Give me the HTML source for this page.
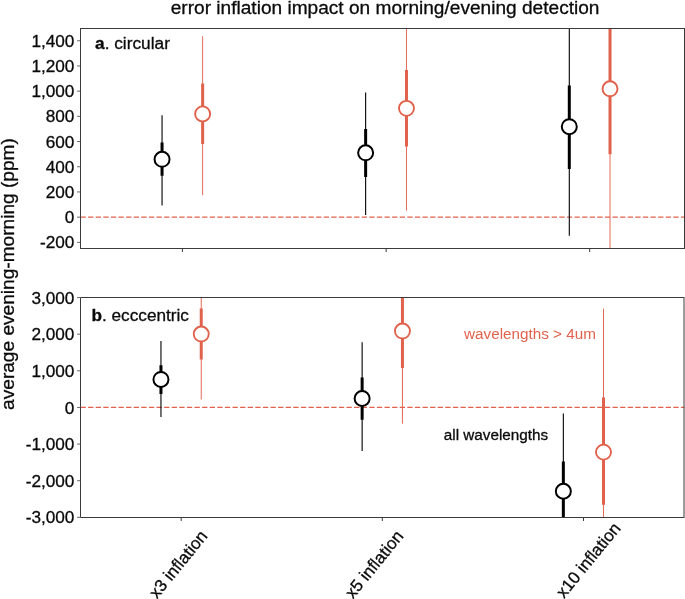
<!DOCTYPE html><html><head><meta charset="utf-8"><title>error inflation impact</title>
<style>html,body{margin:0;padding:0;background:#fff}svg{display:block}text{font-family:"Liberation Sans",Arial,Helvetica,sans-serif}text.k{fill:#0a0a0a;stroke:#0a0a0a;stroke-width:.3px}</style></head><body>
<svg width="685" height="599" viewBox="0 0 685 599">
<rect width="685" height="599" fill="#fff"/>
<defs>
<clipPath id="c1"><rect x="80.5" y="28.5" width="604.0" height="220.0"/></clipPath>
<clipPath id="c2"><rect x="80.5" y="297.5" width="604.0" height="220.0"/></clipPath>
</defs>
<line x1="80.5" x2="684.5" y1="217.05" y2="217.05" stroke="#E1624C" stroke-width="1.35" stroke-dasharray="5.3 2.3"/>
<line x1="80.5" x2="684.5" y1="407.4" y2="407.4" stroke="#E1624C" stroke-width="1.1" stroke-dasharray="5.3 2.3"/>
<g clip-path="url(#c1)"><line x1="162.05" x2="162.05" y1="115.2" y2="205.6" stroke="#000" stroke-width="1.1" opacity="1"/><line x1="162.05" x2="162.05" y1="142.4" y2="175.7" stroke="#000" stroke-width="3.0"/><circle cx="162.05" cy="159.3" r="7.5" fill="#fff" stroke="#000" stroke-width="2.0"/></g>
<g clip-path="url(#c1)"><line x1="202.63" x2="202.63" y1="36.2" y2="195.1" stroke="#E1624C" stroke-width="0.95" opacity="1"/><line x1="202.63" x2="202.63" y1="83.4" y2="144.1" stroke="#E1624C" stroke-width="3.0"/><circle cx="202.63" cy="113.9" r="7.5" fill="#fff" stroke="#E1624C" stroke-width="1.9"/></g>
<g clip-path="url(#c1)"><line x1="365.63" x2="365.63" y1="92.5" y2="215.05" stroke="#000" stroke-width="1.1" opacity="1"/><line x1="365.63" x2="365.63" y1="128.9" y2="177.0" stroke="#000" stroke-width="3.0"/><circle cx="365.63" cy="152.8" r="7.5" fill="#fff" stroke="#000" stroke-width="2.0"/></g>
<g clip-path="url(#c1)"><line x1="406.48" x2="406.48" y1="20" y2="210.6" stroke="#E1624C" stroke-width="0.95" opacity="1"/><line x1="406.48" x2="406.48" y1="70" y2="146.4" stroke="#E1624C" stroke-width="3.0"/><circle cx="406.48" cy="108.35" r="7.5" fill="#fff" stroke="#E1624C" stroke-width="1.9"/></g>
<g clip-path="url(#c1)"><line x1="569.3" x2="569.3" y1="20" y2="235.7" stroke="#000" stroke-width="1.1" opacity="1"/><line x1="569.3" x2="569.3" y1="85.4" y2="169.1" stroke="#000" stroke-width="3.0"/><circle cx="569.3" cy="126.7" r="7.5" fill="#fff" stroke="#000" stroke-width="2.0"/></g>
<g clip-path="url(#c1)"><line x1="610.02" x2="610.02" y1="20" y2="260" stroke="#E1624C" stroke-width="0.95" opacity="1"/><line x1="610.02" x2="610.02" y1="20" y2="154.3" stroke="#E1624C" stroke-width="3.0"/><circle cx="610.02" cy="88.8" r="7.5" fill="#fff" stroke="#E1624C" stroke-width="1.9"/></g>
<g clip-path="url(#c2)"><line x1="160.96" x2="160.96" y1="341.1" y2="416.9" stroke="#000" stroke-width="1.1" opacity="1"/><line x1="160.96" x2="160.96" y1="365.2" y2="394.0" stroke="#000" stroke-width="3.0"/><circle cx="160.96" cy="379.45" r="7.5" fill="#fff" stroke="#000" stroke-width="2.0"/></g>
<g clip-path="url(#c2)"><line x1="201.24" x2="201.24" y1="290" y2="399.5" stroke="#E1624C" stroke-width="0.95" opacity="1"/><line x1="201.24" x2="201.24" y1="308.4" y2="359.4" stroke="#E1624C" stroke-width="3.0"/><circle cx="201.24" cy="334.02" r="7.5" fill="#fff" stroke="#E1624C" stroke-width="1.9"/></g>
<g clip-path="url(#c2)"><line x1="362.13" x2="362.13" y1="342.3" y2="450.9" stroke="#000" stroke-width="1.1" opacity="1"/><line x1="362.13" x2="362.13" y1="377.6" y2="419.7" stroke="#000" stroke-width="3.0"/><circle cx="362.13" cy="398.48" r="7.5" fill="#fff" stroke="#000" stroke-width="2.0"/></g>
<g clip-path="url(#c2)"><line x1="402.45" x2="402.45" y1="290" y2="423.7" stroke="#E1624C" stroke-width="0.95" opacity="1"/><line x1="402.45" x2="402.45" y1="290" y2="367.9" stroke="#E1624C" stroke-width="3.0"/><circle cx="402.45" cy="331.02" r="7.5" fill="#fff" stroke="#E1624C" stroke-width="1.9"/></g>
<g clip-path="url(#c2)"><line x1="563.35" x2="563.35" y1="413.6" y2="520" stroke="#000" stroke-width="1.1" opacity="1"/><line x1="563.35" x2="563.35" y1="461.6" y2="520" stroke="#000" stroke-width="3.0"/><circle cx="563.35" cy="491.24" r="7.5" fill="#fff" stroke="#000" stroke-width="2.0"/></g>
<g clip-path="url(#c2)"><line x1="603.5" x2="603.5" y1="308.6" y2="520" stroke="#E1624C" stroke-width="0.95" opacity="1"/><line x1="603.5" x2="603.5" y1="397.4" y2="504.8" stroke="#E1624C" stroke-width="3.0"/><circle cx="603.5" cy="452.13" r="7.5" fill="#fff" stroke="#E1624C" stroke-width="1.9"/></g>
<rect x="80.5" y="28.5" width="604.0" height="220.0" fill="none" stroke="#3a3a3a" stroke-width="1"/>
<path d="M684.0 297.5H80.5V517.5H684.0" fill="none" stroke="#3a3a3a" stroke-width="1"/>
<line x1="684.0" x2="684.0" y1="297.0" y2="518.0" stroke="#3a3a3a" stroke-width="1"/>
<line x1="77.1" x2="80.5" y1="242.35" y2="242.35" stroke="#555" stroke-width="0.9"/>
<text x="74.4" y="248.45" font-size="17.2" text-anchor="end" class="k">-200</text>
<line x1="77.1" x2="80.5" y1="217.15" y2="217.15" stroke="#555" stroke-width="0.9"/>
<text x="74.4" y="223.25" font-size="17.2" text-anchor="end" class="k">0</text>
<line x1="77.1" x2="80.5" y1="191.95" y2="191.95" stroke="#555" stroke-width="0.9"/>
<text x="74.4" y="198.05" font-size="17.2" text-anchor="end" class="k">200</text>
<line x1="77.1" x2="80.5" y1="166.75" y2="166.75" stroke="#555" stroke-width="0.9"/>
<text x="74.4" y="172.85" font-size="17.2" text-anchor="end" class="k">400</text>
<line x1="77.1" x2="80.5" y1="141.55" y2="141.55" stroke="#555" stroke-width="0.9"/>
<text x="74.4" y="147.65" font-size="17.2" text-anchor="end" class="k">600</text>
<line x1="77.1" x2="80.5" y1="116.35" y2="116.35" stroke="#555" stroke-width="0.9"/>
<text x="74.4" y="122.45" font-size="17.2" text-anchor="end" class="k">800</text>
<line x1="77.1" x2="80.5" y1="91.15" y2="91.15" stroke="#555" stroke-width="0.9"/>
<text x="74.4" y="97.25" font-size="17.2" text-anchor="end" class="k">1,000</text>
<line x1="77.1" x2="80.5" y1="65.95" y2="65.95" stroke="#555" stroke-width="0.9"/>
<text x="74.4" y="72.05" font-size="17.2" text-anchor="end" class="k">1,200</text>
<line x1="77.1" x2="80.5" y1="40.75" y2="40.75" stroke="#555" stroke-width="0.9"/>
<text x="74.4" y="46.85" font-size="17.2" text-anchor="end" class="k">1,400</text>
<line x1="77.1" x2="80.5" y1="517.34" y2="517.34" stroke="#555" stroke-width="0.9"/>
<text x="74.4" y="523.44" font-size="17.2" text-anchor="end" class="k">-3,000</text>
<line x1="77.1" x2="80.5" y1="480.71" y2="480.71" stroke="#555" stroke-width="0.9"/>
<text x="74.4" y="486.81" font-size="17.2" text-anchor="end" class="k">-2,000</text>
<line x1="77.1" x2="80.5" y1="444.08" y2="444.08" stroke="#555" stroke-width="0.9"/>
<text x="74.4" y="450.18" font-size="17.2" text-anchor="end" class="k">-1,000</text>
<line x1="77.1" x2="80.5" y1="407.45" y2="407.45" stroke="#555" stroke-width="0.9"/>
<text x="74.4" y="413.55" font-size="17.2" text-anchor="end" class="k">0</text>
<line x1="77.1" x2="80.5" y1="370.82" y2="370.82" stroke="#555" stroke-width="0.9"/>
<text x="74.4" y="376.92" font-size="17.2" text-anchor="end" class="k">1,000</text>
<line x1="77.1" x2="80.5" y1="334.19" y2="334.19" stroke="#555" stroke-width="0.9"/>
<text x="74.4" y="340.29" font-size="17.2" text-anchor="end" class="k">2,000</text>
<line x1="77.1" x2="80.5" y1="297.56" y2="297.56" stroke="#555" stroke-width="0.9"/>
<text x="74.4" y="303.66" font-size="17.2" text-anchor="end" class="k">3,000</text>
<line x1="182.4" x2="182.4" y1="248.5" y2="252.0" stroke="#3a3a3a" stroke-width="1"/>
<line x1="386.15" x2="386.15" y1="248.5" y2="252.0" stroke="#3a3a3a" stroke-width="1"/>
<line x1="589.7" x2="589.7" y1="248.5" y2="252.0" stroke="#3a3a3a" stroke-width="1"/>
<line x1="181.2" x2="181.2" y1="517.5" y2="521.0" stroke="#3a3a3a" stroke-width="1"/>
<line x1="382.3" x2="382.3" y1="517.5" y2="521.0" stroke="#3a3a3a" stroke-width="1"/>
<line x1="583.5" x2="583.5" y1="517.5" y2="521.0" stroke="#3a3a3a" stroke-width="1"/>
<text transform="translate(208.3,536.4) rotate(-50.8)" font-size="17.0" text-anchor="end" class="k">x3 inflation</text>
<text transform="translate(404.3,536.4) rotate(-50.8)" font-size="17.0" text-anchor="end" class="k">x5 inflation</text>
<text transform="translate(621.4,528.6) rotate(-50.8)" font-size="17.0" text-anchor="end" class="k">x10 inflation</text>
<text x="170.7" y="14.3" font-size="19.1" class="k">error inflation impact on morning/evening detection</text>
<text transform="translate(14.4,409.9) rotate(-90)" font-size="19.1" class="k">average evening-morning (ppm)</text>
<text x="95" y="49.4" font-size="17.3" class="k"><tspan font-weight="bold">a</tspan>. circular</text>
<text x="91.5" y="321.3" font-size="17.2" class="k"><tspan font-weight="bold">b</tspan>. ecccentric</text>
<text x="595.9" y="338.6" font-size="15.25" text-anchor="end" fill="#E1624C">wavelengths &gt; 4um</text>
<text x="548.2" y="439.7" font-size="15.27" text-anchor="end" class="k">all wavelengths</text>
</svg></body></html>
